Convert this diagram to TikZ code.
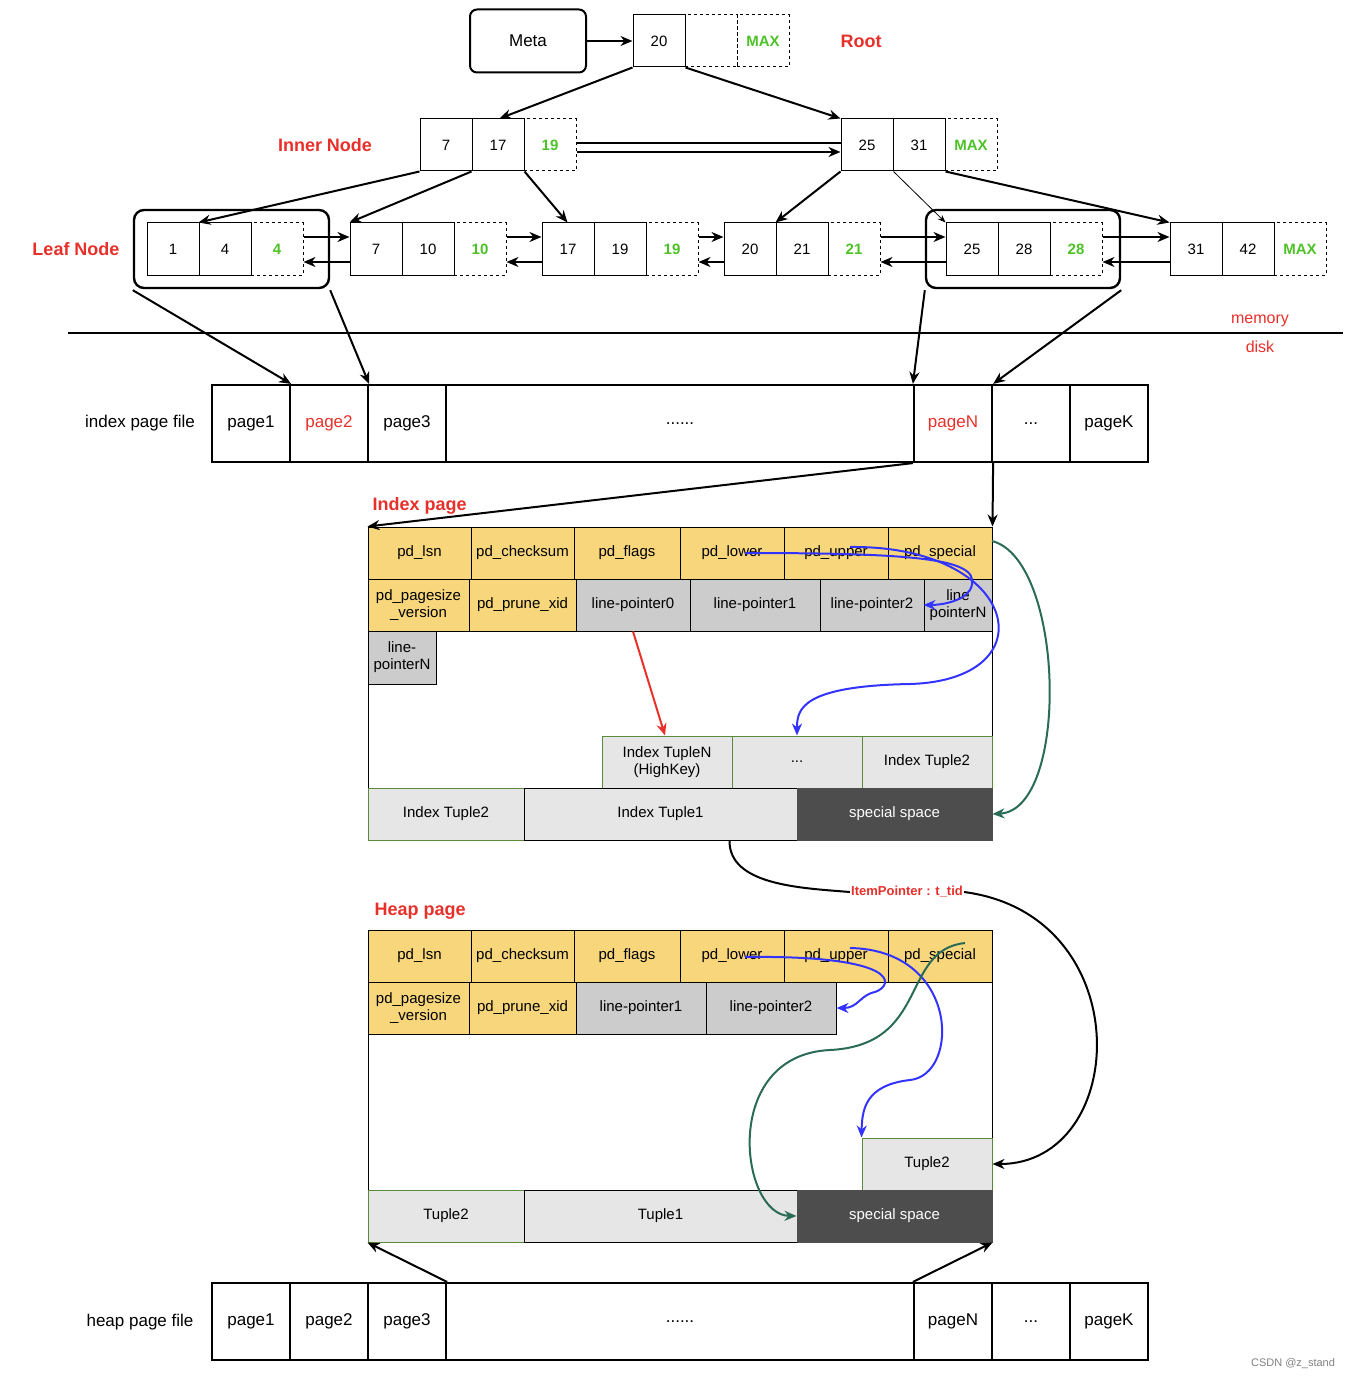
\documentclass[tikz,border=0pt]{standalone}
\usepackage{fontspec}
\setmainfont{Liberation Sans}
\usetikzlibrary{arrows.meta}
\definecolor{yel}{HTML}{F8D77C}
\definecolor{gry}{HTML}{CCCCCC}
\definecolor{lgr}{HTML}{E6E6E6}
\definecolor{dgr}{HTML}{4D4D4D}
\definecolor{gbd}{HTML}{5B8A3C}
\definecolor{grn}{HTML}{4CC227}
\definecolor{rd}{HTML}{E8302A}
\definecolor{blu}{HTML}{3333FF}
\definecolor{tea}{HTML}{2A6B58}
\newcommand{\cellbox}[7][]{\node[draw,line width=1pt,inner sep=0pt,minimum width={(#4-#2)*1pt},minimum height={(#5-#3)*1pt},align=center,#1] (#6) at ({(#2+#4)/2},{(#3+#5)/2}) {#7};}
\begin{document}
\begin{tikzpicture}[x=1pt,y=-1pt,font=\fontsize{15}{17}\selectfont,
 arr/.style={-{Stealth[length=12pt,width=10pt]},line width=2pt},
 dsh/.style={dashed},
 gt/.style={text=grn,font=\fontsize{15}{17}\selectfont\bfseries},
 lbl/.style={text=rd,font=\fontsize{18}{20}\selectfont\bfseries},
 yc/.style={fill=yel},
 gc/.style={fill=gry},
 tc/.style={fill=lgr,draw=gbd},
 pg/.style={line width=2.2pt,font=\fontsize{17}{19}\selectfont},
 cur/.style={-{Stealth[length=12pt,width=10pt]},line width=2pt}]
\useasboundingbox (0,0) rectangle (1354,1380);
% Meta & root
\node[draw,line width=2pt,rounded corners=7pt,minimum width=116pt,minimum height=63pt,font=\fontsize{17}{19}\selectfont] (meta) at (528,41) {Meta};
\cellbox{633}{15}{685}{67}{r1}{20}
\cellbox[dsh]{685}{15}{737}{67}{r2}{}
\cellbox[dsh,gt]{737}{15}{789}{67}{r3}{MAX}
\node[lbl] (rootl) at (861,41) {Root};
\draw[arr] (meta.east) -- (r1.west);
% inner
\cellbox{420}{119}{472}{171}{i1}{7}
\cellbox{472}{119}{524}{171}{i2}{17}
\cellbox[dsh,gt]{524}{119}{576}{171}{i3}{19}
\cellbox{841}{119}{893}{171}{j1}{25}
\cellbox{893}{119}{945}{171}{j2}{31}
\cellbox[dsh,gt]{945}{119}{997}{171}{j3}{MAX}
\node[lbl] (innl) at (325,145) {Inner Node};
\draw[arr] (r1.south west) -- ([xshift=28pt]i2.north west);
\draw[arr] (r1.south east) -- (j1.north west);
\draw[line width=2pt] (i3.east |- 0,143) -- (j1.west |- 0,143);
\draw[arr] (i3.east |- 0,152) -- (j1.west |- 0,152);
% leaves
\cellbox{147}{223}{199}{275}{a1}{1}\cellbox{199}{223}{251}{275}{a2}{4}\cellbox[dsh,gt]{251}{223}{303}{275}{a3}{4}
\cellbox{350}{223}{402}{275}{b1}{7}\cellbox{402}{223}{454}{275}{b2}{10}\cellbox[dsh,gt]{454}{223}{506}{275}{b3}{10}
\cellbox{542}{223}{594}{275}{c1}{17}\cellbox{594}{223}{646}{275}{c2}{19}\cellbox[dsh,gt]{646}{223}{698}{275}{c3}{19}
\cellbox{724}{223}{776}{275}{d1}{20}\cellbox{776}{223}{828}{275}{d2}{21}\cellbox[dsh,gt]{828}{223}{880}{275}{d3}{21}
\cellbox{946}{223}{998}{275}{e1}{25}\cellbox{998}{223}{1050}{275}{e2}{28}\cellbox[dsh,gt]{1050}{223}{1102}{275}{e3}{28}
\cellbox{1170}{223}{1222}{275}{f1}{31}\cellbox{1222}{223}{1274}{275}{f2}{42}\cellbox[dsh,gt]{1274}{223}{1326}{275}{f3}{MAX}
\node[draw,line width=2.4pt,rounded corners=10pt,minimum width=195pt,minimum height=78pt] (fa) at (231.5,249) {};
\node[draw,line width=2.4pt,rounded corners=10pt,minimum width=194pt,minimum height=78pt] (fe) at (1023,249) {};
\node[lbl] (leafl) at (76,249) {Leaf Node};
\foreach \p/\q in {a3/b1,b3/c1,c3/d1,d3/e1,e3/f1}{
 \draw[arr] ([yshift=12pt]\p.east) -- ([yshift=12pt]\q.west);
 \draw[arr] ([yshift=-13pt]\q.west) -- ([yshift=-13pt]\p.east);}
\draw[arr] (i1.south west) -- (a2.north west);
\draw[arr] (i2.south west) -- (b1.north west);
\draw[arr] (i2.south east) -- ([xshift=26pt]c1.north west);
\draw[arr] (j1.south west) -- (d2.north west);
\draw[-{Stealth[length=8pt]},line width=0.8pt] (j1.south east) -- (e1.north west);
\draw[arr] (j2.south east) -- (f1.north west);
% memory/disk
\coordinate (s1) at (68,333); \coordinate (s2) at (1343,333);
\draw[line width=2.2pt] (s1) -- (s2);
\node[text=rd,font=\fontsize{16}{18}\selectfont] (mem) at (1260,321) {memory};
\node[text=rd,font=\fontsize{16}{18}\selectfont] (dsk) at (1260,347) {disk};
% index page file
\node[font=\fontsize{17}{19}\selectfont] (ipf) at (140,423) {index page file};
\cellbox[pg]{212}{385}{290}{462}{p1}{page1}
\cellbox[pg,text=rd]{290}{385}{368}{462}{p2}{page2}
\cellbox[pg]{368}{385}{446}{462}{p3}{page3}
\cellbox[pg]{446}{385}{914}{462}{p4}{......}
\cellbox[pg,text=rd]{914}{385}{992}{462}{pN}{pageN}
\cellbox[pg]{992}{385}{1070}{462}{p5}{...}
\cellbox[pg]{1070}{385}{1148}{462}{pK}{pageK}
\draw[arr] ([yshift=-1pt]fa.south west) -- (p1.north east);
\draw[arr] ([yshift=-1pt]fa.south east) -- (p2.north east);
\draw[arr] ([yshift=-1pt]fe.south west) -- (pN.north west);
\draw[arr] ([yshift=-1pt]fe.south east) -- (pN.north east);
% index page
\node[lbl,anchor=west] (ipl) at (369,506) {Index page};
\node[draw,line width=1pt,minimum width=624pt,minimum height=313pt,inner sep=0pt] (ibox) at (680,683.5) {};
\cellbox[yc]{368}{527}{471}{579}{x1}{pd\_lsn}
\cellbox[yc]{471}{527}{574}{579}{x2}{pd\_checksum}
\cellbox[yc]{574}{527}{680}{579}{x3}{pd\_flags}
\cellbox[yc]{680}{527}{784}{579}{x4}{pd\_lower}
\cellbox[yc]{784}{527}{888}{579}{x5}{pd\_upper}
\cellbox[yc]{888}{527}{992}{579}{x6}{pd\_special}
\cellbox[yc]{368}{579}{469}{631}{y1}{pd\_pagesize\\\_version}
\cellbox[yc]{469}{579}{576}{631}{y2}{pd\_prune\_xid}
\cellbox[gc]{576}{579}{690}{631}{y3}{line-pointer0}
\cellbox[gc]{690}{579}{820}{631}{y4}{line-pointer1}
\cellbox[gc]{820}{579}{924}{631}{y5}{line-pointer2}
\cellbox[gc]{924}{579}{992}{631}{y6}{line\\pointerN}
\cellbox[gc]{368}{631}{436}{684}{y7}{line-\\pointerN}
\cellbox[tc]{602}{736}{732}{788}{t1}{Index TupleN\\(HighKey)}
\cellbox[tc]{732}{736}{862}{788}{t2}{...}
\cellbox[tc]{862}{736}{992}{788}{t3}{Index Tuple2}
\cellbox[tc]{368}{788}{524}{840}{u1}{Index Tuple2}
\cellbox[tc,draw=black]{524}{788}{797}{840}{u2}{Index Tuple1}
\cellbox[fill=dgr,draw=dgr,text=white]{797}{788}{992}{840}{u3}{special space}
\draw[arr] (pN.south west) -- (x1.north west);
\draw[arr] (pN.south east) -- (x6.north east);
\draw[cur,draw=rd,fill=rd] (y3.south) -- ([xshift=-2pt]t1.north);
\draw[cur,blu] (745,553) .. controls (930,553) and (985,560) .. (970,590) .. controls (962,602) and (940,605) .. (y6.west);
\draw[cur,blu] (850,547) .. controls (1020,545) and (1050,680) .. (910,684) .. controls (800,686) and (797,710) .. (t2.north);
\draw[cur,tea] (992,541) .. controls (1065,560) and (1070,810) .. (u3.east);
% item pointer
\node[text=rd,font=\fontsize{13}{15}\selectfont\bfseries,inner sep=1pt] (ip) at (907,892) {ItemPointer : t\_tid};
% heap page
\node[lbl,anchor=west] (hpl) at (371,911) {Heap page};
\node[draw,line width=1pt,minimum width=624pt,minimum height=312pt,inner sep=0pt] (hbox) at (680,1086) {};
\cellbox[yc]{368}{930}{471}{982}{h1}{pd\_lsn}
\cellbox[yc]{471}{930}{574}{982}{h2}{pd\_checksum}
\cellbox[yc]{574}{930}{680}{982}{h3}{pd\_flags}
\cellbox[yc]{680}{930}{784}{982}{h4}{pd\_lower}
\cellbox[yc]{784}{930}{888}{982}{h5}{pd\_upper}
\cellbox[yc]{888}{930}{992}{982}{h6}{pd\_special}
\cellbox[yc]{368}{982}{469}{1034}{k1}{pd\_pagesize\\\_version}
\cellbox[yc]{469}{982}{576}{1034}{k2}{pd\_prune\_xid}
\cellbox[gc]{576}{982}{706}{1034}{k3}{line-pointer1}
\cellbox[gc]{706}{982}{836}{1034}{k4}{line-pointer2}
\cellbox[tc]{862}{1138}{992}{1190}{v1}{Tuple2}
\cellbox[tc]{368}{1190}{524}{1242}{w1}{Tuple2}
\cellbox[tc,draw=black]{524}{1190}{797}{1242}{w2}{Tuple1}
\cellbox[fill=dgr,draw=dgr,text=white]{797}{1190}{992}{1242}{w3}{special space}
\draw[line width=2pt] (u2.south east) ++(-68,0) .. controls (729,885) and (800,888) .. (ip.west);
\draw[arr] (ip.east) .. controls (1140,915) and (1130,1164) .. (v1.east);
\draw[cur,blu] (745,957) .. controls (900,955) and (895,985) .. (875,992) .. controls (860,995) and (858,1008) .. (k4.east);
\draw[cur,blu] (850,948) .. controls (960,950) and (960,1075) .. (910,1080) .. controls (865,1085) and (862,1110) .. (v1.north west);
\draw[cur,tea] (965,943) .. controls (900,950) and (930,1045) .. (830,1050) .. controls (720,1055) and (740,1215) .. (w3.west);
% heap page file
\node[font=\fontsize{17}{19}\selectfont] (hpf) at (140,1322) {heap page file};
\cellbox[pg]{212}{1283}{290}{1360}{q1}{page1}
\cellbox[pg]{290}{1283}{368}{1360}{q2}{page2}
\cellbox[pg]{368}{1283}{446}{1360}{q3}{page3}
\cellbox[pg]{446}{1283}{914}{1360}{q4}{......}
\cellbox[pg]{914}{1283}{992}{1360}{qN}{pageN}
\cellbox[pg]{992}{1283}{1070}{1360}{q5}{...}
\cellbox[pg]{1070}{1283}{1148}{1360}{qK}{pageK}
\draw[arr] (q3.north east) -- (w1.south west);
\draw[arr] (qN.north west) -- (w3.south east);
\node[text=gray,font=\fontsize{11}{13}\selectfont] (wm) at (1293,1364) {CSDN @z\_stand};
\end{tikzpicture}
\end{document}
